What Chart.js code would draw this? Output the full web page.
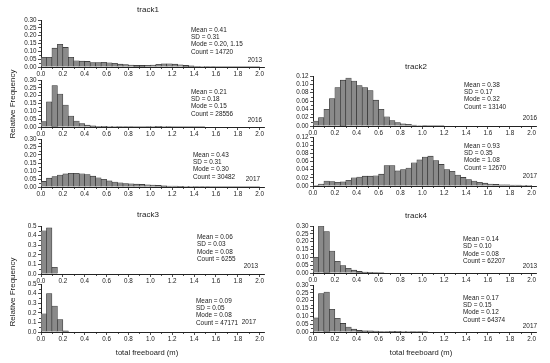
<!DOCTYPE html>
<html><head><meta charset="utf-8">
<script src="https://cdn.jsdelivr.net/npm/chart.js@4"></script>
<style>
body{margin:0;background:#fff;}
#wrap{position:relative;width:550px;height:363px;overflow:hidden;font-family:"Liberation Sans",Arial,sans-serif;color:#1a1a1a;background:#fff;}
canvas{position:absolute;}
.t{position:absolute;white-space:nowrap;}
.stat{font-size:6.4px;line-height:7.4px;}
.title{font-size:8px;transform:translate(-50%,-50%);}
.yr{font-size:6.4px;transform:translate(-100%,-50%);}
.xt{font-size:7.6px;transform:translate(-50%,-50%);}
.yt{font-size:8px;transform:translate(-50%,-50%) rotate(-90deg);}
</style></head><body><div id="wrap"></div>
<script>
// ---------- data ----------
const binWidth = 0.05; // histogram bin width (m), bins start at 0.0
const xTickLabels = [0,0.2,0.4,0.6,0.8,1.0,1.2,1.4,1.6,1.8,2.0];
const xMinorTicks = [0.1,0.3,0.5,0.7,0.9,1.1,1.3,1.5,1.7,1.9];
const yTicksTrack1 = [0,0.05,0.10,0.15,0.20,0.25,0.30];
const yTicksTrack2 = [0,0.02,0.04,0.06,0.08,0.10,0.12];
const yTicksTrack3 = [0,0.1,0.2,0.3,0.4,0.5];
const yTicksTrack4 = [0,0.05,0.10,0.15,0.20,0.25,0.30];

const track1_2013 = [0.062,0.062,0.120,0.145,0.125,0.062,0.040,0.037,0.036,0.029,0.028,0.030,0.027,0.024,0.018,0.015,0.013,0.010,0.010,0.011,0.013,0.017,0.020,0.021,0.018,0.014,0.010,0.007,0.005,0.003,0.002,0.002,0.001,0.001,0.001,0.001,0.0006,0.0005,0.0005,0.0004];
const track1_2016 = [0.035,0.160,0.265,0.210,0.140,0.070,0.038,0.022,0.012,0.007,0.005,0.004,0.003,0.003,0.002,0.002,0.002,0.001,0.001,0.002,0.003,0.004,0.003,0.002,0.001,0.001,0.0006,0.0005,0.0004,0.0003];
const track1_2017 = [0.035,0.055,0.065,0.075,0.082,0.086,0.086,0.083,0.077,0.068,0.058,0.048,0.038,0.031,0.026,0.022,0.020,0.018,0.016,0.014,0.012,0.010,0.008,0.006,0.005,0.004,0.003,0.003,0.002,0.002,0.0015,0.001,0.001,0.001,0.0008,0.0006,0.0005,0.0004,0.0003,0.0003];
const track2_2016 = [0.012,0.020,0.040,0.066,0.092,0.110,0.115,0.108,0.097,0.092,0.085,0.062,0.040,0.022,0.013,0.008,0.005,0.004,0.002,0.001,0.0006,0.0004,0.0003,0.0003];
const track2_2017 = [0.001,0.005,0.012,0.011,0.009,0.010,0.014,0.020,0.022,0.024,0.024,0.025,0.029,0.050,0.050,0.037,0.040,0.044,0.057,0.064,0.071,0.073,0.062,0.053,0.040,0.036,0.027,0.021,0.016,0.012,0.009,0.007,0.005,0.004,0.003,0.003,0.002,0.002,0.001,0.001];
const track3_2013 = [0.45,0.48,0.07];
const track3_2017 = [0.19,0.40,0.27,0.13,0.012];
const track4_2013 = [0.100,0.300,0.265,0.140,0.075,0.048,0.030,0.018,0.010,0.006,0.004,0.002,0.001];
const track4_2017 = [0.090,0.245,0.255,0.145,0.088,0.055,0.032,0.018,0.010,0.008,0.007,0.006,0.005,0.005,0.004,0.004,0.003,0.003,0.002,0.002,0.001];

const stats = {
  t1_2013:["Mean = 0.41","SD = 0.31","Mode = 0.20, 1.15","Count = 14720"],
  t1_2016:["Mean = 0.21","SD = 0.18","Mode = 0.15","Count = 28556"],
  t1_2017:["Mean = 0.43","SD = 0.31","Mode = 0.30","Count = 30482"],
  t2_2016:["Mean = 0.38","SD = 0.17","Mode = 0.32","Count = 13140"],
  t2_2017:["Mean = 0.93","SD = 0.35","Mode = 1.08","Count = 12670"],
  t3_2013:["Mean = 0.06","SD = 0.03","Mode = 0.08","Count = 6255"],
  t3_2017:["Mean = 0.09","SD = 0.05","Mode = 0.08","Count = 47171"],
  t4_2013:["Mean = 0.14","SD = 0.10","Mode = 0.08","Count = 62207"],
  t4_2017:["Mean = 0.17","SD = 0.15","Mode = 0.12","Count = 64374"]
};

// ---------- layout ----------
const xMax = 2.04;
const plotW = 223;
const panels = [
  {key:'t1_2013', data:track1_2013, yt:yTicksTrack1, dec:2, x0:41,  top:20,  bottom:67, stat:[191,25.5], year:'2013', yr:[262,59]},
  {key:'t1_2016', data:track1_2016, yt:yTicksTrack1, dec:2, x0:41,  top:80,  bottom:127, stat:[191,87.5], year:'2016', yr:[262,119]},
  {key:'t1_2017', data:track1_2017, yt:yTicksTrack1, dec:2, x0:41,  top:139, bottom:187, stat:[193,150.5], year:'2017', yr:[260,178]},
  {key:'t3_2013', data:track3_2013, yt:yTicksTrack3, dec:1, x0:41,  top:226, bottom:274, stat:[197,233], year:'2013', yr:[258,265]},
  {key:'t3_2017', data:track3_2017, yt:yTicksTrack3, dec:1, x0:41,  top:284, bottom:332, stat:[196,296.5], year:'2017', yr:[256,320.5]},
  {key:'t2_2016', data:track2_2016, yt:yTicksTrack2, dec:2, x0:313, top:76,  bottom:126, stat:[464,80.5], year:'2016', yr:[537,117]},
  {key:'t2_2017', data:track2_2017, yt:yTicksTrack2, dec:2, x0:313, top:137, bottom:186, stat:[464,141.5], year:'2017', yr:[537,175]},
  {key:'t4_2013', data:track4_2013, yt:yTicksTrack4, dec:2, x0:313, top:226, bottom:273, stat:[463,235], year:'2013', yr:[537,265]},
  {key:'t4_2017', data:track4_2017, yt:yTicksTrack4, dec:2, x0:313, top:285, bottom:332, stat:[463,293.5], year:'2017', yr:[537,325]}
];
const texts = [
  {cls:'title', s:'track1', x:148, y:9},
  {cls:'title', s:'track2', x:416, y:66},
  {cls:'title', s:'track3', x:148, y:214},
  {cls:'title', s:'track4', x:416, y:215},
  {cls:'yt', s:'Relative Frequency', x:12, y:104},
  {cls:'yt', s:'Relative Frequency', x:12, y:292},
  {cls:'xt', s:'total freeboard (m)', x:147, y:352},
  {cls:'xt', s:'total freeboard (m)', x:421, y:352}
];

const wrap = document.getElementById('wrap');
const FONT = "'Liberation Sans', Arial, sans-serif";
const AXC = '#222';

const minorTicks = {
  id:'minorTicks',
  afterDraw(chart, args, opts){
    const ctx = chart.ctx, x = chart.scales.x, y = chart.scales.y;
    ctx.save();
    ctx.strokeStyle = AXC; ctx.lineWidth = 0.8;
    ctx.beginPath();
    xMinorTicks.forEach(v=>{const px=Math.round(x.getPixelForValue(v))+0.5; ctx.moveTo(px,y.bottom); ctx.lineTo(px,y.bottom+2);});
    (opts.yMinor||[]).forEach(v=>{const py=Math.round(y.getPixelForValue(v))+0.5; ctx.moveTo(x.left,py); ctx.lineTo(x.left-2,py);});
    ctx.stroke();
    ctx.restore();
  }
};

panels.forEach(p=>{
  const padT = 6, padR = 6, yW = 40, xH = 14;
  const plotH = p.bottom - p.top;
  const cv = document.createElement('canvas');
  cv.width = yW + plotW + padR; cv.height = padT + plotH + xH;
  cv.style.left = (p.x0 - yW) + 'px'; cv.style.top = (p.top - padT) + 'px';
  wrap.appendChild(cv);
  const yMinor = [];
  for (let i=0;i<p.yt.length-1;i++) yMinor.push((p.yt[i]+p.yt[i+1])/2);
  new Chart(cv, {
    type:'bar',
    data:{datasets:[{
      data:p.data.map((v,i)=>({x:i*binWidth+binWidth/2, y:v})),
      backgroundColor:'#8a8a8a', borderColor:'#2a2a2a', borderWidth:0.6,
      barPercentage:1, categoryPercentage:1
    }]},
    options:{
      responsive:false, animation:false, devicePixelRatio:1,
      layout:{padding:{top:padT,right:padR,left:0,bottom:0}},
      plugins:{legend:{display:false}, tooltip:{enabled:false}, minorTicks:{yMinor}},
      scales:{
        x:{type:'linear', min:0, max:xMax, offset:false,
           grid:{display:true, drawOnChartArea:false, drawTicks:true, tickLength:3, color:AXC, lineWidth:0.8, offset:false},
           border:{display:true, color:AXC, width:1},
           afterBuildTicks:s=>{s.ticks = xTickLabels.map(v=>({value:v}));},
           afterFit:s=>{s.height = xH;},
           ticks:{autoSkip:false, maxRotation:0, padding:0, color:'#222', font:{family:FONT,size:6.3},
                  callback:v=>Number(v).toFixed(1)}},
        y:{type:'linear', min:0, max:p.yt[p.yt.length-1],
           grid:{display:true, drawOnChartArea:false, drawTicks:true, tickLength:3, color:AXC, lineWidth:0.8},
           border:{display:true, color:AXC, width:1},
           afterBuildTicks:s=>{s.ticks = p.yt.map(v=>({value:v}));},
           afterFit:s=>{s.width = yW;},
           ticks:{autoSkip:false, padding:1.5, color:'#222', font:{family:FONT,size:6.3},
                  callback:v=>Number(v).toFixed(p.dec)}}
      }
    },
    plugins:[minorTicks]
  });
  const st = document.createElement('div');
  st.className = 't stat';
  st.style.left = p.stat[0]+'px'; st.style.top = p.stat[1]+'px';
  st.innerHTML = stats[p.key].join('<br>');
  wrap.appendChild(st);
  const yr = document.createElement('div');
  yr.className = 't yr'; yr.textContent = p.year;
  yr.style.left = p.yr[0]+'px'; yr.style.top = p.yr[1]+'px';
  wrap.appendChild(yr);
});
texts.forEach(t=>{
  const d = document.createElement('div');
  d.className = 't '+t.cls; d.textContent = t.s;
  d.style.left = t.x+'px'; d.style.top = t.y+'px';
  wrap.appendChild(d);
});
</script></body></html>
